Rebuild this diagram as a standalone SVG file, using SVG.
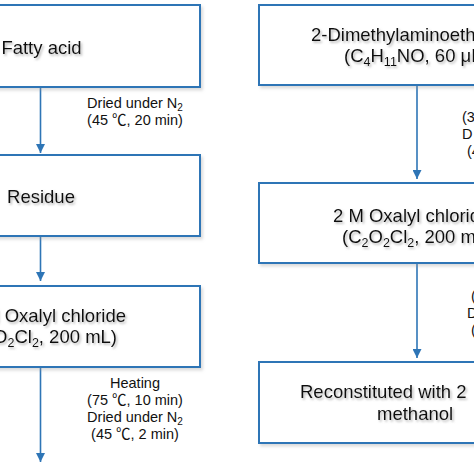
<svg xmlns="http://www.w3.org/2000/svg" width="474" height="474" viewBox="0 0 474 474">
  <defs>
    <filter id="ts" x="-10%" y="-30%" width="130%" height="180%">
      <feDropShadow dx="1.5" dy="1.8" stdDeviation="1.2" flood-color="#777" flood-opacity="0.55"/>
    </filter>
    <filter id="bs" x="-5%" y="-10%" width="115%" height="130%">
      <feDropShadow dx="2" dy="2.5" stdDeviation="1.5" flood-color="#999" flood-opacity="0.35"/>
    </filter>
    <marker id="ah" viewBox="0 0 10 10" refX="10" refY="5" markerWidth="9" markerHeight="9" markerUnits="userSpaceOnUse" orient="auto">
      <path d="M0,0 L10,5 L0,10 z" fill="#2E75B6"/>
    </marker>
  </defs>
  <style>
    .box { fill: #fff; stroke: #2E75B6; stroke-width: 2; filter: url(#bs); }
    .main { font-family: "Liberation Sans", "Noto Sans CJK KR", sans-serif; font-size: 18.5px; fill: #111; filter: url(#ts); }
    .lbl { font-family: "Liberation Sans", "Noto Sans CJK KR", sans-serif; font-size: 14.5px; fill: #111; }
    .sub { font-size: 12.5px; }
    .lsub { font-size: 10px; }
    .conn { stroke: #2E75B6; stroke-width: 1.6; fill: none; marker-end: url(#ah); }
  </style>
  <rect width="474" height="474" fill="#fff"/>

  <g id="connectors">
    <line class="conn" x1="40.5" y1="87" x2="40.5" y2="153"/>
    <line class="conn" x1="40.5" y1="236" x2="40.5" y2="281"/>
    <line class="conn" x1="40.5" y1="367" x2="40.5" y2="462"/>
    <line class="conn" x1="417" y1="85" x2="417" y2="179"/>
    <line class="conn" x1="417" y1="263" x2="417" y2="358"/>
  </g>

  <g id="node-fatty-acid">
    <rect class="box" x="-119" y="5" width="319" height="82"/>
    <text class="main" x="41.5" y="54" text-anchor="middle">Fatty acid</text>
  </g>
  <g id="label-dry1">
    <text class="lbl" x="135" y="108" text-anchor="middle">Dried under N<tspan class="lsub" dy="3">2</tspan></text>
    <text class="lbl" x="135" y="125" text-anchor="middle">(45 ℃, 20 min)</text>
  </g>

  <g id="node-residue">
    <rect class="box" x="-119" y="155" width="319" height="81"/>
    <text class="main" x="41" y="203" text-anchor="middle">Residue</text>
  </g>

  <g id="node-oxalyl-left">
    <rect class="box" x="-119" y="286" width="319" height="81"/>
    <text class="main" x="126" y="322" text-anchor="end">2 M Oxalyl chloride</text>
    <text class="main" x="117" y="343" text-anchor="end">(C<tspan class="sub" dy="4">2</tspan><tspan dy="-4">O</tspan><tspan class="sub" dy="4">2</tspan><tspan dy="-4">Cl</tspan><tspan class="sub" dy="4">2</tspan><tspan dy="-4">, 200 mL)</tspan></text>
  </g>
  <g id="label-heat">
    <text class="lbl" x="135" y="388" text-anchor="middle">Heating</text>
    <text class="lbl" x="135" y="405" text-anchor="middle">(75 ℃, 10 min)</text>
    <text class="lbl" x="135" y="422" text-anchor="middle">Dried under N<tspan class="lsub" dy="3">2</tspan></text>
    <text class="lbl" x="135" y="439" text-anchor="middle">(45 ℃, 2 min)</text>
  </g>

  <g id="node-dmae">
    <rect class="box" x="259" y="5" width="316" height="80"/>
    <text class="main" x="311" y="41">2-Dimethylaminoethanol</text>
    <text class="main" x="344" y="62">(C<tspan class="sub" dy="4">4</tspan><tspan dy="-4">H</tspan><tspan class="sub" dy="4">11</tspan><tspan dy="-4">NO, 60 μL)</tspan></text>
  </g>
  <g id="label-right1">
    <text class="lbl" x="462" y="122">(3</text>
    <text class="lbl" x="462" y="139">D</text>
    <text class="lbl" x="467" y="156">(4</text>
  </g>

  <g id="node-oxalyl-right">
    <rect class="box" x="259" y="183" width="316" height="80"/>
    <text class="main" x="333" y="222">2 M Oxalyl chloride</text>
    <text class="main" x="342" y="243">(C<tspan class="sub" dy="4">2</tspan><tspan dy="-4">O</tspan><tspan class="sub" dy="4">2</tspan><tspan dy="-4">Cl</tspan><tspan class="sub" dy="4">2</tspan><tspan dy="-4">, 200 mL)</tspan></text>
  </g>
  <g id="label-right2">
    <text class="lbl" x="471" y="301">(</text>
    <text class="lbl" x="467" y="318">D</text>
    <text class="lbl" x="471" y="335">(</text>
  </g>

  <g id="node-reconstituted">
    <rect class="box" x="259" y="362" width="316" height="81"/>
    <text class="main" x="300" y="398">Reconstituted with 2</text>
    <text class="main" x="377" y="420">methanol</text>
  </g>
</svg>
